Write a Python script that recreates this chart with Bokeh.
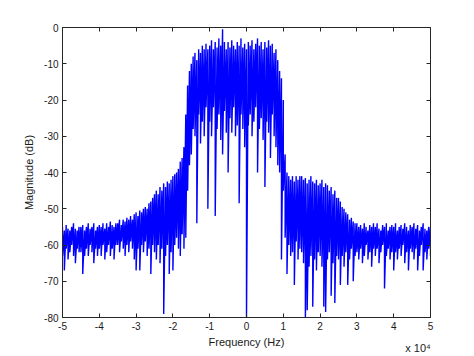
import numpy as np
from bokeh.plotting import figure
from bokeh.models import LinearAxis, FixedTicker, Range1d
from bokeh.embed import file_html
from bokeh.resources import INLINE

# frequency bins (kHz), 0.5 kHz apart, -50 .. 50
freq_khz = np.arange(-50.0, 50.25, 0.5)

# upper envelope of the trace (dB)
peak_db = [
    -55, -56, -54.5, -55.5, -56, -55, -54, -55.5, -56, -55,
    -55, -54.5, -56, -55, -54, -55.5, -55, -54, -56, -55,
    -54.5, -55, -54, -55.5, -54, -55, -53.5, -54.5, -55, -54,
    -54, -53, -54.5, -53, -53.5, -52.5, -53, -52, -53, -51.5,
    -51, -52, -50.5, -51, -50, -49.5, -50, -48.5, -48, -47,
    -46, -45, -46, -44, -45, -43, -44, -42.5, -43, -42,
    -41, -40.5, -40, -39, -37, -36, -33, -24, -16, -12,
    -10, -8, -7, -9, -6, -7, -5, -6, -4.5, -6,
    -5, -3.5, -6, -4, -5.5, -3, -5, -0.5, -4, -6,
    -4, -5.5, -3.5, -5, -6, -4, -5, -3, -5.5, -4.5,
    -6, -4, -5, -3.5, -6, -4.5, -3, -5, -4, -6,
    -4, -5.5, -3.5, -5, -4.5, -7, -6, -9, -12, -14,
    -20, -35, -40, -41, -42, -41, -42.5, -41, -42, -41,
    -41, -42, -41.5, -43, -42, -41, -42.5, -43, -42, -43.5,
    -43, -42, -44, -43, -43.5, -45, -44, -46, -45, -47,
    -47, -48, -49.5, -50, -51, -51.5, -53, -52.5, -53.5, -54,
    -54, -55, -54.5, -55.5, -54, -55, -56, -54.5, -55, -54,
    -55, -54, -55.5, -56, -54.5, -55, -54, -56, -55, -54.5,
    -55, -54, -56, -55, -54.5, -55.5, -54, -55, -56, -54.5,
    -55, -54, -55.5, -54.5, -56, -55, -54, -55.5, -56, -55, -55,
]

# lower swing of the trace (dB), including the deep notches
trough_db = [
    -63, -67, -61, -64, -62, -60, -63, -65, -61, -62,
    -62, -68, -63, -61, -63, -60, -62, -65, -61, -63,
    -61, -63, -60, -64, -62, -60, -63, -61, -64, -60,
    -60, -62, -59, -61, -63, -60, -62, -59, -61, -64,
    -67, -61, -67, -60, -62, -59, -63, -61, -68, -60,
    -62, -64, -60, -65, -61, -79, -63, -60, -68, -62,
    -67, -60, -58, -61, -63, -57, -61, -58, -45, -38,
    -35, -28, -30, -54, -24, -32, -26, -30, -22, -50,
    -26, -30, -22, -52, -28, -24, -31, -35, -23, -29,
    -40, -25, -29, -22, -30, -27, -48.5, -24, -28, -33,
    -80, -27, -24, -30, -26, -22, -40, -28, -25, -31,
    -44, -26, -29, -36, -24, -30, -33, -38, -40, -64,
    -45, -58, -68, -60, -63, -62, -71, -59, -64, -61,
    -62, -65, -80, -78, -66, -63, -77, -64, -67, -62,
    -63, -66, -77, -78.5, -64, -62, -74, -65, -76, -63,
    -64, -71, -63, -66, -62, -71, -64, -61, -70, -63,
    -62, -64, -61, -65, -63, -60, -64, -62, -66, -61,
    -63, -61, -65, -62, -60, -72, -63, -61, -64, -62,
    -67, -62, -64, -61, -63, -60, -65, -62, -67, -61,
    -62, -64, -61, -67, -63, -60, -67, -62, -64, -61, -63,
]

x_tick_values = [-50000, -40000, -30000, -20000, -10000, 0, 10000, 20000, 30000, 40000, 50000]
x_tick_labels = ["-5", "-4", "-3", "-2", "-1", "0", "1", "2", "3", "4", "5"]
y_tick_values = [-80, -70, -60, -50, -40, -30, -20, -10, 0]
y_tick_labels = ["-80", "-70", "-60", "-50", "-40", "-30", "-20", "-10", "0"]
x_multiplier_text = "x 10\u2074"
x_multiplier_pos = 46600

FONT = "Liberation Sans"
AXC = "#262626"

# zig-zag trace through the read peaks and troughs
xs = np.repeat(np.asarray(freq_khz) * 1000.0, 2)
ys = np.column_stack([np.asarray(peak_db, float), np.asarray(trough_db, float)]).ravel()

p = figure(width=474, height=356, output_backend="svg", toolbar_location=None,
           x_range=Range1d(-50000, 50000), y_range=Range1d(-80, 0),
           min_border_left=62, min_border_right=44, min_border_top=27, min_border_bottom=39,
           background_fill_color="white", border_fill_color="white")
p.grid.visible = False
p.outline_line_color = AXC
p.outline_line_width = 1

p.line(xs, ys, line_color="#0000ff", line_width=1.4)

def style(ax, ticks, labels, show):
    ax.ticker = FixedTicker(ticks=ticks)
    ax.major_label_overrides = {t: (l if show else "") for t, l in zip(ticks, labels)}
    ax.major_tick_in = 4
    ax.major_tick_out = 0
    ax.minor_tick_line_color = None
    ax.major_tick_line_color = AXC
    ax.axis_line_color = AXC
    ax.major_label_text_font = FONT
    ax.major_label_text_font_size = "10px"
    ax.major_label_text_color = "#1a1a1a"
    ax.major_label_standoff = 4
    ax.axis_label_text_font = FONT
    ax.axis_label_text_font_style = "normal"
    ax.axis_label_text_font_size = "11px"
    ax.axis_label_text_color = "#1a1a1a"

xa = p.xaxis[0]
style(xa, x_tick_values, x_tick_labels, True)
xa.axis_label = "Frequency (Hz)"
xa.axis_label_standoff = 3

ya = p.yaxis[0]
style(ya, y_tick_values, y_tick_labels, True)
ya.axis_label = "Magnitude (dB)"
ya.axis_label_standoff = 6

top_ax = LinearAxis()
style(top_ax, x_tick_values, x_tick_labels, False)
p.add_layout(top_ax, "above")
right_ax = LinearAxis()
style(right_ax, y_tick_values, y_tick_labels, False)
p.add_layout(right_ax, "right")

# exponent multiplier "x 10^4" under the right end of the x axis
mult_ax = LinearAxis()
style(mult_ax, [x_multiplier_pos], [x_multiplier_text], True)
mult_ax.axis_line_color = None
mult_ax.major_tick_line_color = None
mult_ax.major_label_text_font_size = "11px"
mult_ax.major_label_standoff = -9
p.add_layout(mult_ax, "below")

open("out.html", "w").write(file_html(p, INLINE))
